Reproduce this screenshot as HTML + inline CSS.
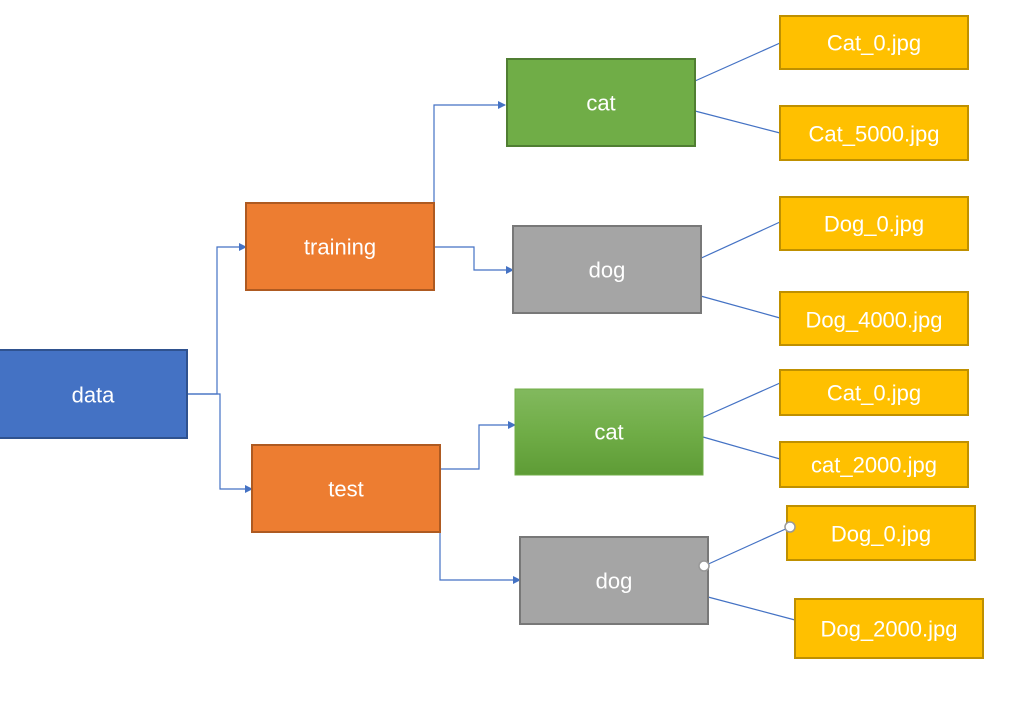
<!DOCTYPE html>
<html><head><meta charset="utf-8"><style>
html,body{margin:0;padding:0;background:#fff;}
svg{display:block;}
text{font-family:"Liberation Sans",sans-serif;fill:#fff;text-anchor:middle;dominant-baseline:central;}
</style></head><body>
<svg width="1012" height="716" viewBox="0 0 1012 716" xmlns="http://www.w3.org/2000/svg">
<defs>
<linearGradient id="g" x1="0" y1="0" x2="0" y2="1"><stop offset="0" stop-color="#82B95E"/><stop offset="0.5" stop-color="#70AD47"/><stop offset="1" stop-color="#5E9C36"/></linearGradient>
<marker id="a" markerWidth="8" markerHeight="8" refX="7" refY="4" orient="auto" markerUnits="userSpaceOnUse"><path d="M0,0 L8,4 L0,8 z" fill="#4472C4"/></marker>
</defs>
<g fill="none" stroke="#4472C4" stroke-width="1.2">
<polyline points="187,394 217,394 217,247 246,247" marker-end="url(#a)"/>
<polyline points="187,394 220,394 220,489 252,489" marker-end="url(#a)"/>
<polyline points="434,247 434,105 505,105" marker-end="url(#a)"/>
<polyline points="434,247 474,247 474,270 513,270" marker-end="url(#a)"/>
<polyline points="440,469 479,469 479,425 515,425" marker-end="url(#a)"/>
<polyline points="440,532 440,580 520,580" marker-end="url(#a)"/>
<line x1="695" y1="81" x2="780" y2="43"/>
<line x1="695" y1="111" x2="780" y2="133"/>
<line x1="697" y1="260" x2="780" y2="222"/>
<line x1="697" y1="295" x2="780" y2="318"/>
<line x1="697" y1="420" x2="780" y2="383"/>
<line x1="703" y1="437" x2="780" y2="459"/>
<line x1="704" y1="566" x2="790" y2="527"/>
<line x1="708" y1="597" x2="795" y2="620"/>
</g>
<rect x="-2" y="350" width="189" height="88" fill="#4472C4" stroke="#2F528F" stroke-width="2"/>
<text x="93" y="395" font-size="22">data</text>
<rect x="246" y="203" width="188" height="87" fill="#ED7D31" stroke="#AE5A21" stroke-width="2"/>
<text x="340" y="247" font-size="22">training</text>
<rect x="252" y="445" width="188" height="87" fill="#ED7D31" stroke="#AE5A21" stroke-width="2"/>
<text x="346" y="489" font-size="22">test</text>
<rect x="507" y="59" width="188" height="87" fill="#70AD47" stroke="#507E32" stroke-width="2"/>
<text x="601" y="103" font-size="22">cat</text>
<rect x="513" y="226" width="188" height="87" fill="#A5A5A5" stroke="#787878" stroke-width="2"/>
<text x="607" y="270" font-size="22">dog</text>
<rect x="515" y="389" width="188" height="86" fill="url(#g)" stroke="#70AD47" stroke-width="1"/>
<text x="609" y="432" font-size="22">cat</text>
<rect x="520" y="537" width="188" height="87" fill="#A5A5A5" stroke="#787878" stroke-width="2"/>
<text x="614" y="581" font-size="22">dog</text>
<g fill="#FFC000" stroke="#BF9000" stroke-width="2">
<rect x="780" y="16" width="188" height="53"/>
<rect x="780" y="106" width="188" height="54"/>
<rect x="780" y="197" width="188" height="53"/>
<rect x="780" y="292" width="188" height="53"/>
<rect x="780" y="370" width="188" height="45"/>
<rect x="780" y="442" width="188" height="45"/>
<rect x="787" y="506" width="188" height="54"/>
<rect x="795" y="599" width="188" height="59"/>
</g>
<g font-size="22">
<text x="874" y="43">Cat_0.jpg</text>
<text x="874" y="134">Cat_5000.jpg</text>
<text x="874" y="224">Dog_0.jpg</text>
<text x="874" y="320">Dog_4000.jpg</text>
<text x="874" y="393">Cat_0.jpg</text>
<text x="874" y="465">cat_2000.jpg</text>
<text x="881" y="534">Dog_0.jpg</text>
<text x="889" y="629">Dog_2000.jpg</text>
</g>
<circle cx="790" cy="527" r="5" fill="#fff" stroke="#999" stroke-width="1.5"/>
<circle cx="704" cy="566" r="5" fill="#fff" stroke="#999" stroke-width="1.5"/>
</svg>
</body></html>
